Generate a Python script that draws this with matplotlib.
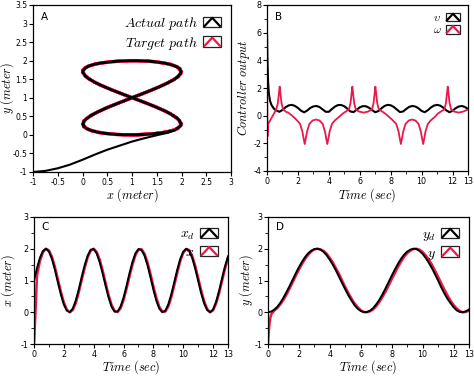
import numpy as np
import matplotlib
matplotlib.use("Agg")
import matplotlib.pyplot as plt
from matplotlib.legend_handler import HandlerBase
from matplotlib.lines import Line2D
from matplotlib.patches import Rectangle
from matplotlib.ticker import MultipleLocator

plt.rcParams['mathtext.fontset'] = 'cm'
plt.rcParams['axes.unicode_minus'] = False

RED = '#e8194b'
W, H = 474, 376

# sample times (sec) of the reference signals
t = np.linspace(0, 13, 66)

# desired trajectory x_d, y_d
xd = [1.00, 1.39, 1.72, 1.93, 2.00, 1.91, 1.68, 1.34, 0.94, 0.56,
      0.24, 0.05, 0.00, 0.12, 0.37, 0.72, 1.12, 1.49, 1.79, 1.97,
      1.99, 1.85, 1.58, 1.22, 0.83, 0.46, 0.17, 0.02, 0.02, 0.18,
      0.46, 0.83, 1.23, 1.59, 1.86, 1.99, 1.96, 1.79, 1.49, 1.11,
      0.71, 0.36, 0.11, 0.00, 0.05, 0.25, 0.57, 0.95, 1.34, 1.68,
      1.91, 2.00, 1.93, 1.71, 1.38, 0.99, 0.60, 0.28, 0.07, 0.00,
      0.09, 0.33, 0.67, 1.07, 1.45, 1.76]
yd = [0.00, 0.02, 0.08, 0.17, 0.30, 0.46, 0.64, 0.83, 1.03, 1.23,
      1.42, 1.59, 1.74, 1.86, 1.94, 1.99, 2.00, 1.97, 1.90, 1.79,
      1.65, 1.49, 1.31, 1.11, 0.91, 0.72, 0.53, 0.37, 0.22, 0.11,
      0.04, 0.00, 0.01, 0.05, 0.13, 0.25, 0.39, 0.56, 0.75, 0.95,
      1.15, 1.34, 1.52, 1.68, 1.81, 1.91, 1.97, 2.00, 1.99, 1.93,
      1.84, 1.71, 1.56, 1.39, 1.20, 1.00, 0.79, 0.60, 0.43, 0.29,
      0.16, 0.06, 0.01, 0.00, 0.03, 0.09]

# robot response (extra points for the start transient)
t_act = [0, 0.05, 0.1, 0.15] + list(t[1:])
x_act = [-1.00, -0.50, 0.00, 0.60,
         1.15, 1.62, 1.89, 2.00, 1.95, 1.75, 1.43, 1.04, 0.65, 0.31,
         0.08, 0.00, 0.07, 0.29, 0.63, 1.02, 1.40, 1.73, 1.94, 2.00,
         1.90, 1.66, 1.32, 0.92, 0.54, 0.23, 0.04, 0.01, 0.12, 0.38,
         0.74, 1.13, 1.50, 1.80, 1.97, 1.99, 1.85, 1.58, 1.22, 0.82,
         0.45, 0.17, 0.02, 0.02, 0.18, 0.47, 0.85, 1.24, 1.61, 1.87,
         1.99, 1.96, 1.78, 1.47, 1.09, 0.69, 0.35, 0.11, 0.00, 0.06,
         0.27, 0.59, 0.98, 1.37, 1.70]
y_act = [-1.00, -0.60, -0.35, -0.18,
         -0.07, 0.05, 0.13, 0.25, 0.39, 0.56, 0.75, 0.95, 1.15, 1.34,
         1.52, 1.68, 1.81, 1.91, 1.98, 2.00, 1.98, 1.93, 1.84, 1.71,
         1.56, 1.38, 1.20, 0.99, 0.79, 0.60, 0.43, 0.28, 0.16, 0.06,
         0.01, 0.00, 0.03, 0.09, 0.19, 0.32, 0.48, 0.65, 0.84, 1.04,
         1.23, 1.42, 1.59, 1.74, 1.86, 1.94, 1.99, 2.00, 1.97, 1.90,
         1.79, 1.66, 1.50, 1.31, 1.12, 0.92, 0.72, 0.54, 0.37, 0.23,
         0.12, 0.04, 0.00, 0.01, 0.05]

# path of the robot from its start point until it joins the figure eight
x_app = [-1.0, -0.75, -0.5, -0.25, 0.0, 0.25, 0.5, 0.75, 1.0, 1.25, 1.5, 1.7, 1.85, 1.95]
y_app = [-1.0, -0.97, -0.9, -0.8, -0.67, -0.53, -0.4, -0.29, -0.18, -0.09, -0.01, 0.05, 0.12, 0.2]

# controller outputs
v_t = [0, 0.03, 0.07, 0.12, 0.2, 0.3, 0.45, 0.6, 0.8] + list(t[5:])
v = [6.1, 4.0, 2.5, 1.6, 1.05, 0.75, 0.5, 0.38, 0.28,
     0.41, 0.61, 0.74, 0.78, 0.71, 0.56, 0.36, 0.24, 0.37, 0.56,
     0.67, 0.70, 0.62, 0.45, 0.28, 0.28, 0.48, 0.66, 0.77, 0.77,
     0.68, 0.50, 0.30, 0.26, 0.43, 0.60, 0.69, 0.68, 0.57, 0.40,
     0.25, 0.33, 0.53, 0.70, 0.78, 0.75, 0.63, 0.44, 0.26, 0.30,
     0.48, 0.64, 0.70, 0.66, 0.53, 0.34, 0.25, 0.39, 0.59, 0.73,
     0.78, 0.73, 0.58, 0.38, 0.25, 0.35, 0.54, 0.66, 0.70, 0.63,
     0.48]
w_t = [0, 0.03, 0.08, 0.15, 0.3, 0.45, 0.6, 0.7, 0.77, 0.82, 0.87, 0.94, 1.04, 1.2, 1.4, 1.6, 1.8, 1.95,
       2.14, 2.29, 2.37, 2.44, 2.51, 2.59, 2.74, 2.95, 3.17, 3.4,
       3.6, 3.75, 3.83, 3.9, 3.97, 4.05, 4.2, 4.4, 4.65, 4.9, 5.1,
       5.3, 5.4, 5.47, 5.52, 5.57, 5.64, 5.74, 5.95, 6.25, 6.55,
       6.79, 6.89, 6.96, 7.01, 7.06, 7.13, 7.23, 7.45, 7.7, 7.9, 8.1,
       8.36, 8.51, 8.59, 8.66, 8.73, 8.81, 8.96, 9.17, 9.38, 9.6,
       9.8, 9.95, 10.03, 10.1, 10.17, 10.25, 10.4, 10.6, 10.85, 11.05, 11.25,
       11.47, 11.57, 11.64, 11.69, 11.74, 11.81, 11.91, 12.1, 12.4, 12.7, 13.0]
w = [4.5, -1.5, -0.6, -0.45, -0.15, 0.15, 0.45, 0.9, 1.6, 2.1, 1.6, 0.9, 0.45, 0.3, 0.2, 0.02, -0.18, -0.35,
     -0.6, -1.15, -1.65, -2.05, -1.65, -1.15, -0.6, -0.35, -0.28, -0.35,
     -0.6, -1.15, -1.65, -2.05, -1.65, -1.15, -0.6, -0.33, -0.1, 0.15, 0.3,
     0.45, 0.9, 1.6, 2.1, 1.6, 0.9, 0.45, 0.3, 0.22, 0.3,
     0.45, 0.9, 1.6, 2.1, 1.6, 0.9, 0.45, 0.3, 0.1, -0.1, -0.3,
     -0.6, -1.15, -1.65, -2.05, -1.65, -1.15, -0.6, -0.35, -0.28, -0.35,
     -0.6, -1.15, -1.65, -2.05, -1.65, -1.15, -0.6, -0.33, -0.1, 0.15, 0.3,
     0.45, 0.9, 1.6, 2.1, 1.6, 0.9, 0.45, 0.3, 0.22, 0.3, 0.45]

time_ticks = [0, 2, 4, 6, 8, 10, 12, 13]


class CaretHandler(HandlerBase):
    # little box with a "^" in the line colour, like the original legend
    def create_artists(self, legend, orig_handle, xdescent, ydescent, width, height, fontsize, trans):
        x0, y0 = -xdescent, -ydescent
        box = Rectangle((x0, y0), width, height, fc='white', ec='#222222', lw=0.9, transform=trans)
        xs = [x0 + 0.08 * width, x0 + 0.5 * width, x0 + 0.92 * width]
        ys = [y0 + 0.12 * height, y0 + 0.88 * height, y0 + 0.12 * height]
        caret = Line2D(xs, ys, color=orig_handle.get_color(), lw=1.6, transform=trans)
        return [box, caret]


def add_axes(left, top, right, bottom):
    # box given in picture pixels from the top-left corner
    return fig.add_axes([left / W, 1 - bottom / H, (right - left) / W, (bottom - top) / H])


def style(ax, letter, box, xlab, ylab, xlab_top, ylab_right, tsize=5.8):
    left, top, right, bottom = box
    ax.tick_params(direction='out', length=3, width=0.8, labelsize=tsize, pad=1, top=False, right=False)
    ax.tick_params(which='minor', direction='out', length=2, width=0.6, top=False, right=False)
    for s in ax.spines.values():
        s.set_linewidth(0.9)
    ax.text(0.04, 0.96, letter, transform=ax.transAxes, va='top', ha='left', fontsize=7.5)
    ax.set_xlabel(xlab, fontsize=8.8)
    ax.set_ylabel(ylab, fontsize=8.8)
    ax.xaxis.set_label_coords(0.5, (bottom - xlab_top) / (bottom - top))
    ax.yaxis.set_label_coords((ylab_right - left) / (right - left), 0.5)


def legend(ax, fs, reverse=False):
    h, l = ax.get_legend_handles_labels()
    if reverse:
        h, l = h[::-1], l[::-1]
    ax.legend(h, l, loc='upper right', frameon=False, markerfirst=False, fontsize=fs,
              handlelength=1.3, handleheight=0.8, handletextpad=0.4, labelspacing=0.2,
              borderaxespad=0.3, handler_map={Line2D: CaretHandler()})


fig = plt.figure(figsize=(W / 100, H / 100), dpi=100)
boxA = (33, 5, 231, 172)
boxB = (267, 5, 468, 171)
boxC = (34, 217, 228, 344)
boxD = (268, 217, 469, 344)
axA = add_axes(*boxA)
axB = add_axes(*boxB)
axC = add_axes(*boxC)
axD = add_axes(*boxD)

# A: path in the plane
axA.plot(x_app + xd[4:], y_app + yd[4:], color='black', lw=1.5, zorder=3, label=r'$Actual\ path$')
axA.plot(xd, yd, color=RED, lw=2.4, zorder=2, label=r'$Target\ path$')
axA.set_xlim(-1, 3)
axA.set_ylim(-1, 3.5)
axA.set_xticks([-1, -0.5, 0, 0.5, 1, 1.5, 2, 2.5, 3])
axA.set_xticklabels(['-1', '-0.5', '0', '0.5', '1', '1.5', '2', '2.5', '3'])
axA.set_yticks([-1, -0.5, 0, 0.5, 1, 1.5, 2, 2.5, 3, 3.5])
axA.set_yticklabels(['-1', '-0.5', '0', '0.5', '1', '1.5', '2', '2.5', '3', '3.5'])
style(axA, 'A', boxA, r'$x\ (meter)$', r'$y\ (meter)$', 186, 15.6, tsize=5.5)
legend(axA, 10)

# B: controller outputs
axB.plot(v_t, v, color='black', lw=1.5, label=r'$\upsilon$')
axB.plot(w_t, w, color=RED, lw=1.3, label=r'$\omega$')
axB.set_xlim(0, 13)
axB.set_ylim(-4, 8)
axB.set_xticks(time_ticks)
axB.set_yticks([-4, -2, 0, 2, 4, 6, 8])
axB.yaxis.set_minor_locator(MultipleLocator(1))
axB.xaxis.set_minor_locator(MultipleLocator(1))
style(axB, 'B', boxB, r'$Time\ (sec)$', r'$Controller\ output$', 186, 252)
legend(axB, 8)

# C: x over time
axC.plot(t_act, x_act, color=RED, lw=1.8, label=r'$x$')
axC.plot(t, xd, color='black', lw=1.4, label=r'$x_d$')
axC.set_xlim(0, 13)
axC.set_ylim(-1, 3)
axC.set_xticks(time_ticks)
axC.set_yticks([-1, 0, 1, 2, 3])
axC.yaxis.set_minor_locator(MultipleLocator(0.5))
axC.xaxis.set_minor_locator(MultipleLocator(1))
style(axC, 'C', boxC, r'$Time\ (sec)$', r'$x\ (meter)$', 358.5, 17)
legend(axC, 10, reverse=True)

# D: y over time
axD.plot(t_act, y_act, color=RED, lw=1.8, label=r'$y$')
axD.plot(t, yd, color='black', lw=1.4, label=r'$y_d$')
axD.set_xlim(0, 13)
axD.set_ylim(-1, 3)
axD.set_xticks(time_ticks)
axD.set_yticks([-1, 0, 1, 2, 3])
axD.yaxis.set_minor_locator(MultipleLocator(0.5))
axD.xaxis.set_minor_locator(MultipleLocator(1))
style(axD, 'D', boxD, r'$Time\ (sec)$', r'$y\ (meter)$', 358.5, 255)
legend(axD, 10, reverse=True)

fig.savefig('out.png', dpi=100)
